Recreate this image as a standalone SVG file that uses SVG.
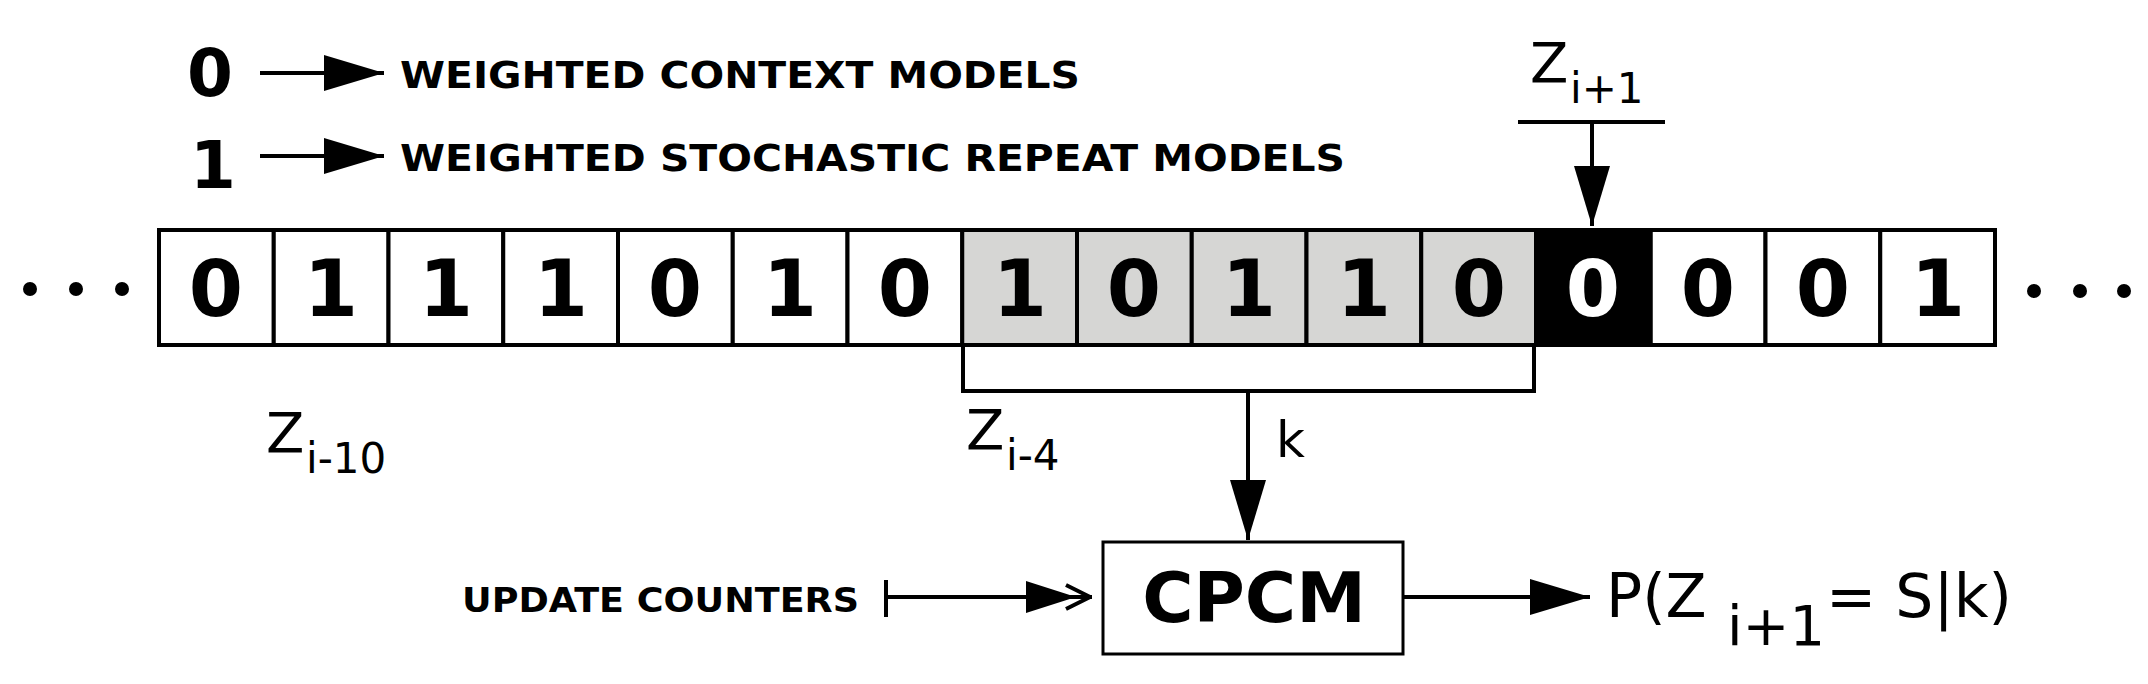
<svg xmlns="http://www.w3.org/2000/svg" width="2148" height="684" viewBox="0 0 2148 684">
<style>
text{font-family:"DejaVu Sans","Liberation Sans",sans-serif;fill:#000}
.b{font-weight:bold}
.cell{stroke:#000;stroke-width:4}
.dig{font-weight:bold;font-size:78px;text-anchor:middle}
.ln{stroke:#000;stroke-width:4;fill:none}
.z{font-size:56px}
.s{font-size:42px}
</style>
<defs>
<marker id="ah" markerWidth="10" markerHeight="8" refX="10" refY="4" orient="auto" markerUnits="userSpaceOnUse" viewBox="0 0 10 8">
<path d="M0,0L10,4L0,8z" fill="#000"/></marker>
<marker id="big" viewBox="0 0 60 36" refX="60" refY="18" markerWidth="60" markerHeight="36" orient="auto" markerUnits="userSpaceOnUse">
<path d="M0,0L60,18L0,36z" fill="#000"/></marker>
<marker id="dbl" viewBox="0 0 66 36" refX="66" refY="18" markerWidth="66" markerHeight="36" orient="auto" markerUnits="userSpaceOnUse">
<path d="M0,2L50,18L0,34z" fill="#000"/><path d="M40,6L64,18L40,30" fill="none" stroke="#000" stroke-width="4"/></marker>
</defs>
<g id="legend">
<text x="210" y="96" class="b" font-size="66" text-anchor="middle">0</text>
<text x="213" y="188" class="b" font-size="66" text-anchor="middle">1</text>
<text x="400" y="88" class="b" font-size="38" textLength="680" lengthAdjust="spacingAndGlyphs">WEIGHTED CONTEXT MODELS</text>
<text x="400" y="171" class="b" font-size="38" textLength="945" lengthAdjust="spacingAndGlyphs">WEIGHTED STOCHASTIC REPEAT MODELS</text>
</g>
<g id="cells">
<rect class="cell" x="159" y="230" width="114.75" height="115" fill="#fff"/>
<rect class="cell" x="273.75" y="230" width="114.75" height="115" fill="#fff"/>
<rect class="cell" x="388.5" y="230" width="114.75" height="115" fill="#fff"/>
<rect class="cell" x="503.25" y="230" width="114.75" height="115" fill="#fff"/>
<rect class="cell" x="618" y="230" width="114.75" height="115" fill="#fff"/>
<rect class="cell" x="732.75" y="230" width="114.75" height="115" fill="#fff"/>
<rect class="cell" x="847.5" y="230" width="114.75" height="115" fill="#fff"/>
<rect class="cell" x="962.25" y="230" width="114.75" height="115" fill="#d6d6d4"/>
<rect class="cell" x="1077" y="230" width="114.75" height="115" fill="#d6d6d4"/>
<rect class="cell" x="1191.75" y="230" width="114.75" height="115" fill="#d6d6d4"/>
<rect class="cell" x="1306.5" y="230" width="114.75" height="115" fill="#d6d6d4"/>
<rect class="cell" x="1421.25" y="230" width="114.75" height="115" fill="#d6d6d4"/>
<rect class="cell" x="1536" y="230" width="114.75" height="115" fill="#000"/>
<rect class="cell" x="1650.75" y="230" width="114.75" height="115" fill="#fff"/>
<rect class="cell" x="1765.5" y="230" width="114.75" height="115" fill="#fff"/>
<rect class="cell" x="1880.25" y="230" width="114.75" height="115" fill="#fff"/>
<text class="dig" x="216" y="316">0</text>
<text class="dig" x="331" y="316">1</text>
<text class="dig" x="446" y="316">1</text>
<text class="dig" x="561" y="316">1</text>
<text class="dig" x="675" y="316">0</text>
<text class="dig" x="790" y="316">1</text>
<text class="dig" x="905" y="316">0</text>
<text class="dig" x="1020" y="316">1</text>
<text class="dig" x="1134" y="316">0</text>
<text class="dig" x="1249" y="316">1</text>
<text class="dig" x="1364" y="316">1</text>
<text class="dig" x="1479" y="316">0</text>
<text class="dig" x="1593" y="316" style="fill:#fff">0</text>
<text class="dig" x="1708" y="316">0</text>
<text class="dig" x="1823" y="316">0</text>
<text class="dig" x="1938" y="316">1</text>
</g>
<g id="dots">
<circle cx="30" cy="289" r="7"/><circle cx="76" cy="289" r="7"/><circle cx="122" cy="289" r="7"/>
<circle cx="2034" cy="291" r="7"/><circle cx="2080" cy="291" r="7"/><circle cx="2124" cy="291" r="7"/>
</g>
<g id="labels">
<text class="z" x="266" y="452">Z</text><text class="s" x="306" y="473">i-10</text>
<text class="z" x="966" y="449">Z</text><text class="s" x="1006" y="470">i-4</text>
<text class="z" x="1530" y="82">Z</text><text class="s" x="1570" y="103">i+1</text>
<text x="1276" y="457" font-size="50">k</text>
<text x="462" y="612" class="b" font-size="34" textLength="397" lengthAdjust="spacingAndGlyphs">UPDATE COUNTERS</text>
<text x="1606" y="617" font-size="60">P(Z</text>
<text x="1727" y="645" font-size="56">i+1</text>
<text x="1826" y="617" font-size="60">= S|k)</text>
</g>
<g id="cpcm">
<rect x="1103" y="542" width="300" height="112" fill="#fff" stroke="#000" stroke-width="3"/>
<text x="1254" y="622" class="b" font-size="70" text-anchor="middle">CPCM</text>
</g>
<g id="connectors">
<line class="ln" x1="260" y1="73" x2="384" y2="73" marker-end="url(#big)"/>
<line class="ln" x1="260" y1="156" x2="384" y2="156" marker-end="url(#big)"/>
<line class="ln" x1="1518" y1="122" x2="1665" y2="122" stroke-width="3"/>
<line class="ln" x1="1592" y1="122" x2="1592" y2="226" marker-end="url(#big)"/>
<polyline class="ln" points="963,345 963,391 1534,391 1534,345"/>
<line class="ln" x1="1248" y1="391" x2="1248" y2="540" marker-end="url(#big)"/>
<line class="ln" x1="1403" y1="597" x2="1590" y2="597" marker-end="url(#big)"/>
<line class="ln" x1="886" y1="580" x2="886" y2="617" stroke-width="3"/>
<line class="ln" x1="886" y1="597" x2="1092" y2="597" marker-end="url(#dbl)"/>
</g>
</svg>
